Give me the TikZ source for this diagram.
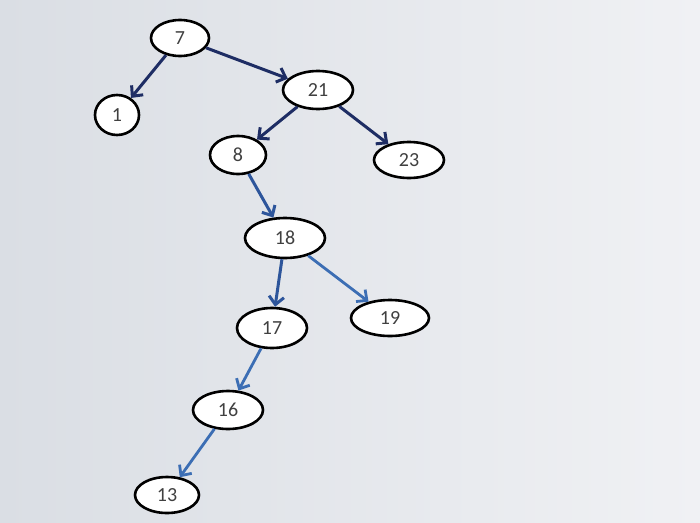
\documentclass[tikz,border=0pt]{standalone}
\usepackage{fontspec}
\setmainfont{Carlito}
\usetikzlibrary{arrows.meta,shapes.geometric}
\definecolor{navy}{RGB}{30,45,100}
\definecolor{mblue}{RGB}{45,85,155}
\definecolor{lblue}{RGB}{60,110,180}
\definecolor{bgl}{RGB}{218,222,228}
\definecolor{bgr}{RGB}{240,241,244}
\begin{document}
\begin{tikzpicture}[x=1pt,y=-1pt,
  tn/.style={ellipse,draw=black,line width=2.6pt,fill=white,inner sep=0pt,font=\fontsize{20}{20}\selectfont,text=black!75},
  ea/.style={draw=navy,line width=3pt,-{Straight Barb[length=8pt,width=15pt]}},
  eb/.style={draw=lblue,line width=2.8pt,-{Straight Barb[length=8pt,width=15pt]}}]
\useasboundingbox (0,0) rectangle (700,522);
\shade[left color=bgl,right color=bgr] (0,0) rectangle (700,522);
\node[tn,minimum width=58pt,minimum height=36pt] (n7) at (180,38) {7};
\node[tn,minimum width=44pt,minimum height=40pt] (n1) at (117,115) {1};
\node[tn,minimum width=70pt,minimum height=38pt] (n21) at (318,90) {21};
\node[tn,minimum width=56pt,minimum height=38pt] (n8) at (238,155) {8};
\node[tn,minimum width=70pt,minimum height=36pt] (n23) at (409,160) {23};
\node[tn,minimum width=80pt,minimum height=40pt] (n18) at (285,238) {18};
\node[tn,minimum width=78pt,minimum height=36pt] (n19) at (390,318) {19};
\node[tn,minimum width=70pt,minimum height=40pt] (n17) at (272,328) {17};
\node[tn,minimum width=70pt,minimum height=38pt] (n16) at (228,410) {16};
\node[tn,minimum width=64pt,minimum height=36pt] (n13) at (167,495) {13};
\draw[ea] (n7) -- (n1);
\draw[ea] (n7) -- (n21);
\draw[ea] (n21) -- (n8);
\draw[ea] (n21) -- (n23);
\draw[ea,draw=mblue] (n8) -- (n18);
\draw[ea,draw=mblue] (n18) -- (n17);
\draw[eb] (n18) -- (n19);
\draw[eb] (n17) -- (n16);
\draw[eb] (n16) -- (n13);
\end{tikzpicture}
\end{document}
